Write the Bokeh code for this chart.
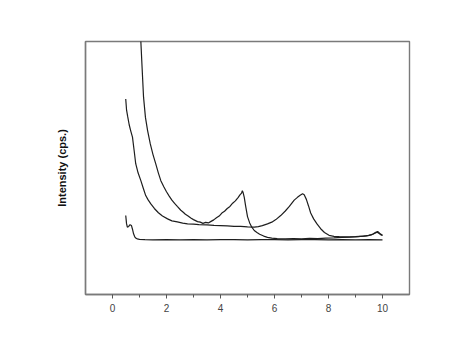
from bokeh.plotting import figure
from bokeh.models import Range1d, FixedTicker
from bokeh.embed import file_html
from bokeh.resources import INLINE

# Curve with peak near 4.8 (top, steepest at low angle)
xa = [1.00, 1.05, 1.09, 1.15, 1.22, 1.30, 1.40, 1.50, 1.60, 1.70, 1.79, 1.90, 2.00, 2.10, 2.20,
      2.30, 2.40, 2.53, 2.62, 2.70, 2.80, 2.90, 3.00, 3.15, 3.25, 3.35, 3.45, 3.55, 3.65, 3.75,
      3.85, 3.95, 4.05, 4.15, 4.25, 4.35, 4.45, 4.55, 4.65, 4.72, 4.78, 4.81, 4.84, 4.88, 4.93,
      5.00, 5.08, 5.16, 5.25, 5.35, 5.45, 5.60, 5.74, 5.90, 6.10, 6.40, 6.70, 7.00, 7.30, 7.60,
      7.90, 8.20, 8.50, 8.80, 9.10, 9.40, 9.60, 9.72, 9.80, 9.88, 9.95, 10.00]
ya = [115.0, 100.0, 91.0, 78.0, 70.0, 64.8, 59.5, 55.3, 51.7, 48.0, 45.0, 42.6, 40.6, 38.9, 37.3,
      36.0, 34.8, 33.3, 32.5, 31.7, 31.0, 30.2, 29.6, 28.8, 28.6, 28.1, 28.5, 28.3, 28.9, 29.5,
      30.3, 31.0, 32.2, 32.9, 34.0, 34.8, 36.1, 37.0, 38.3, 39.4, 40.1, 41.0, 40.2, 38.4, 35.0,
      30.8, 28.3, 26.6, 25.3, 24.5, 23.8, 23.1, 22.6, 22.3, 22.1, 22.0, 22.1, 22.0, 22.2, 22.1,
      22.3, 22.4, 22.6, 22.7, 22.9, 23.2, 23.6, 24.2, 24.6, 24.1, 23.5, 23.3]

# Curve with peak near 7.0 (middle)
xb = [0.49, 0.52, 0.56, 0.62, 0.68, 0.74, 0.80, 0.86, 0.95, 1.05, 1.14, 1.23, 1.32, 1.42, 1.55,
      1.70, 1.85, 2.04, 2.20, 2.40, 2.60, 2.78, 3.00, 3.20, 3.50, 3.76, 4.00, 4.25, 4.50, 4.75,
      5.00, 5.25, 5.40, 5.55, 5.74, 5.90, 6.05, 6.23, 6.40, 6.55, 6.73, 6.85, 6.95, 7.04, 7.10,
      7.18, 7.26, 7.34, 7.45, 7.58, 7.71, 7.85, 8.02, 8.20, 8.40, 8.70, 9.00, 9.30, 9.50, 9.65,
      9.75, 9.82, 9.90, 10.00]
yb = [77.3, 73.0, 70.5, 67.0, 64.5, 62.2, 57.0, 51.7, 48.0, 45.0, 42.0, 39.1, 37.4, 35.8, 34.0,
      32.3, 31.0, 29.9, 29.1, 28.7, 28.2, 27.9, 27.8, 27.6, 27.5, 27.3, 27.2, 27.1, 26.9, 26.9,
      26.7, 26.6, 26.8, 27.2, 27.9, 28.6, 29.6, 31.2, 33.0, 34.8, 37.3, 38.4, 39.2, 39.8, 39.4,
      37.6, 35.0, 32.2, 29.9, 27.8, 26.0, 24.5, 23.4, 23.0, 22.9, 22.8, 22.9, 23.1, 23.4, 23.9,
      24.6, 24.9, 24.1, 23.4]

# Flat curve (bottom)
xc = [0.49, 0.52, 0.55, 0.60, 0.65, 0.70, 0.74, 0.78, 0.82, 0.86, 0.92, 1.00, 1.20, 1.50, 2.00,
      2.50, 3.00, 3.50, 4.00, 4.50, 5.00, 5.50, 6.00, 6.50, 7.00, 7.50, 8.00, 8.50, 9.00, 9.50,
      10.00]
yc = [31.2, 28.0, 26.6, 26.9, 27.6, 27.3, 25.8, 24.0, 22.9, 22.3, 22.0, 21.8, 21.7, 21.6, 21.7,
      21.6, 21.7, 21.6, 21.7, 21.7, 21.6, 21.7, 21.7, 21.6, 21.7, 21.7, 21.6, 21.7, 21.6, 21.7,
      21.6]

x_ticks = [0, 2, 4, 6, 8, 10]
x_minor = [1, 3, 5, 7, 9]
y_label = "Intensity (cps.)"

p = figure(width=474, height=352, output_backend="svg", toolbar_location=None,
           x_range=Range1d(-1, 11), y_range=Range1d(0, 100),
           min_border_left=85, min_border_right=65, min_border_top=41, min_border_bottom=58)
p.background_fill_color = "white"
p.border_fill_color = "white"
p.outline_line_color = "#7a7a7a"
p.outline_line_width = 1.4
p.xgrid.visible = False
p.ygrid.visible = False

line_color = "#1e1e1e"
for xs, ys in ((xa, ya), (xb, yb), (xc, yc)):
    p.line(xs, ys, line_color=line_color, line_width=1.2)

xa_ = p.xaxis[0]
xa_.ticker = FixedTicker(ticks=x_ticks, minor_ticks=x_minor)
xa_.axis_line_color = "#7a7a7a"
xa_.axis_line_width = 1.4
xa_.major_tick_line_color = "#555555"
xa_.minor_tick_line_color = "#555555"
xa_.major_tick_in = 0
xa_.major_tick_out = 4
xa_.minor_tick_in = 0
xa_.minor_tick_out = 3
xa_.major_label_text_font = "Liberation Sans"
xa_.major_label_text_font_size = "10px"
xa_.major_label_text_color = "#444444"
xa_.major_label_standoff = 5

ya_ = p.yaxis[0]
ya_.ticker = FixedTicker(ticks=[])
ya_.axis_line_color = "#7a7a7a"
ya_.axis_line_width = 1.4
ya_.major_tick_out = 0
ya_.major_tick_in = 0
ya_.minor_tick_out = 0
ya_.minor_tick_in = 0
ya_.major_label_text_font_size = "0px"
ya_.major_label_standoff = 0
ya_.axis_label = y_label
ya_.axis_label_text_font = "Liberation Sans"
ya_.axis_label_text_font_style = "bold"
ya_.axis_label_text_font_size = "11px"
ya_.axis_label_text_color = "#111111"
ya_.axis_label_standoff = 18

open("out.html", "w").write(file_html(p, INLINE))
